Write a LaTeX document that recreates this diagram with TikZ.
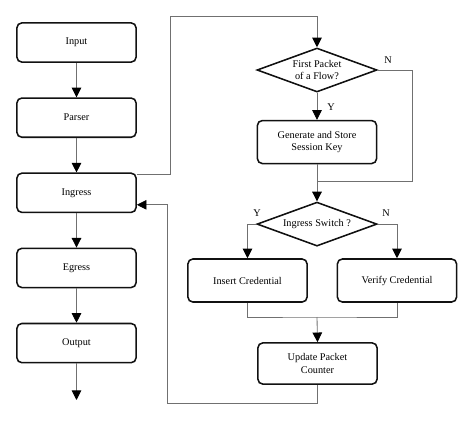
\documentclass[tikz,border=0pt]{standalone}
\usepackage{fontspec}
\setmainfont{Liberation Serif}
\usepackage{xcolor}
\definecolor{boxblack}{HTML}{111111}
\definecolor{linegray}{HTML}{707070}
\usepackage{tikz}
\usetikzlibrary{shapes.geometric, arrows.meta, positioning, calc}
\tikzset{
  procbox/.style ={rectangle, rounded corners=3.5pt, draw=boxblack, line width=1.1pt, fill=white,
                   text=black, align=center, inner sep=2pt, minimum width=2.98cm, minimum height=0.98cm,
                   font=\fontsize{7.3}{9}\selectfont},
  decbox/.style  ={diamond, aspect=2.7, draw=boxblack, line width=1.1pt, fill=white, text=black,
                   align=center, inner sep=0pt, minimum width=3cm, minimum height=1.1cm,
                   font=\fontsize{7.3}{9}\selectfont},
  flowline/.style={line width=0.6pt, color=linegray},
  flowarr/.style ={-{Triangle[length=2.4mm, width=2.4mm, color=black]}, line width=0.6pt, color=linegray},
  yntxt/.style   ={font=\fontsize{7.3}{9}\selectfont, text=black, inner sep=0pt},
}

\begin{document}
\begin{tikzpicture}[node distance=0.86cm]
  \useasboundingbox (0,0) rectangle (11.85,-10.525);
  % left column
  \node[procbox] (inp) at (1.9125,-1.0625) {Input};
  \node[procbox, below=of inp] (par) {Parser};
  \node[procbox, below=of par] (ing) {Ingress};
  \node[procbox, below=of ing] (egr) {Egress};
  \node[procbox, below=of egr] (out) {Output};
  \coordinate (outend) at (1.9125,-10.0);
  % right column
  \node[decbox] (dia1) at (7.925,-1.75) {First Packet\\of a Flow?};
  \node[procbox, minimum height=1.075cm, below=0.675cm of dia1] (gen) {Generate and Store\\Session Key};
  \node[decbox, below=0.925cm of gen] (dia2) {Ingress Switch ?};
  \node[procbox, minimum height=1.075cm] (ins) at (6.1875,-7.0125) {Insert Credential};
  \node[procbox, minimum height=1.075cm] (ver) at (9.925,-7.0125) {Verify Credential};
  \node[procbox, minimum height=1.03cm] (upd) at (7.9375,-9.0875) {Update Packet\\Counter};
  \coordinate (jmp) at (4.25,-0.4);
  \coordinate (njoin) at (10.3,-4.525);
  \coordinate (mrg) at (7.925,-7.925);
  \coordinate (ret) at (4.175,-10.075);
  % connectors
  \draw[flowarr] (inp) -- (par);
  \draw[flowarr] (par) -- (ing);
  \draw[flowarr] (ing) -- (egr);
  \draw[flowarr] (egr) -- (out);
  \draw[flowarr] (out) -- (outend);
  \draw[flowarr] ([yshift=-1.5pt]ing.north east) -| (jmp) -| (dia1.north);
  \draw[flowarr] (dia1) -- (gen);
  \draw[flowline] (dia1.east) -| (njoin) -- (gen.south |- njoin);
  \draw[flowarr] (gen) -- (dia2);
  \draw[flowarr] (dia2.west) -| (ins.north);
  \draw[flowarr] (dia2.east) -| (ver.north);
  \draw[flowline] (ins.south) |- (mrg) -| (ver.south);
  \draw[flowarr] (mrg) -- (upd.north);
  \draw[flowarr] (upd.south) |- (ret) |- ([yshift=-0.3cm]ing.east);
  % labels
  \node[yntxt] (y1) at (8.275,-2.675) {Y};
  \node[yntxt] (n1) at (9.7,-1.5) {N};
  \node[yntxt] (y2) at (6.425,-5.325) {Y};
  \node[yntxt] (n2) at (9.65,-5.325) {N};
\end{tikzpicture}
\end{document}
